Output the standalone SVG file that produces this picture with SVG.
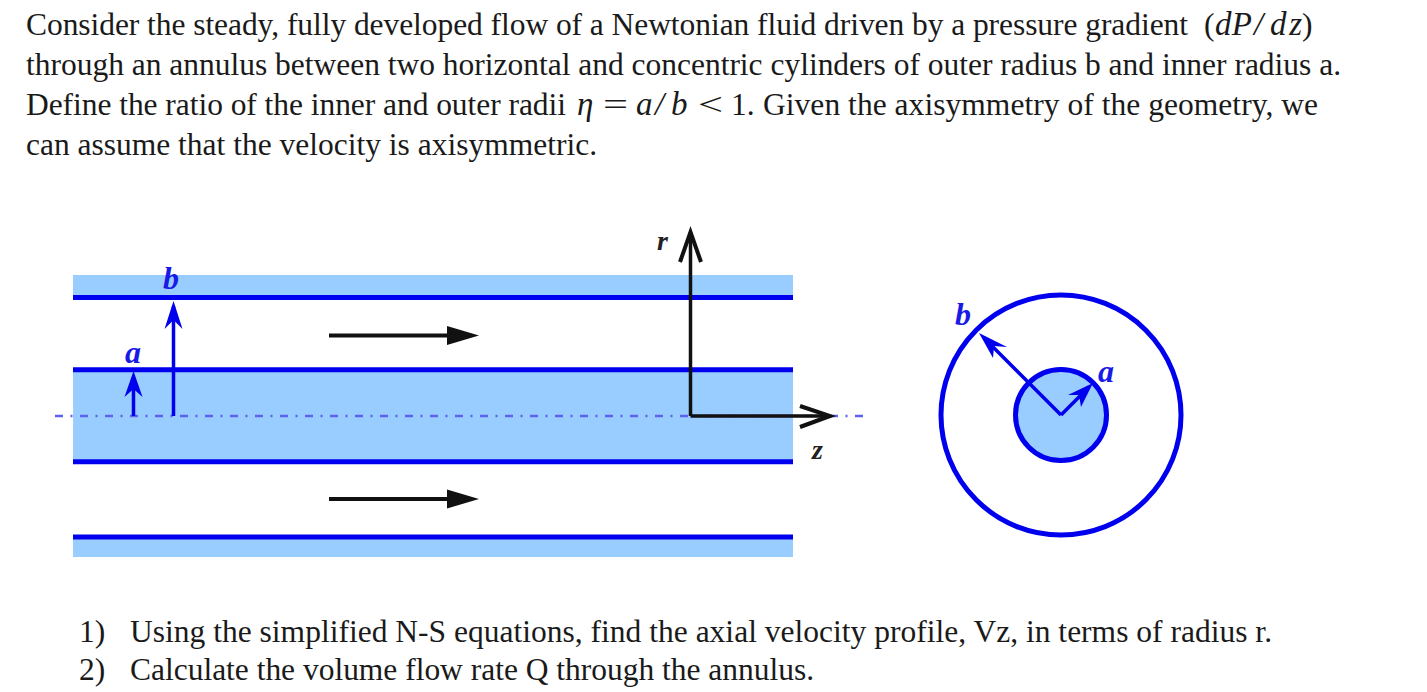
<svg xmlns="http://www.w3.org/2000/svg" width="1427" height="692" viewBox="0 0 1427 692">
<style>
.t{font-family:"Liberation Serif","Times New Roman",serif;font-size:31.5px;fill:#1a1a1a}
.m{font-family:"Liberation Serif",serif;font-style:italic;font-size:33px;fill:#1a1a1a}
.fill{fill:#99ccff}
.w{stroke:#0000ee;stroke-width:5;fill:none}
.bl{stroke:#0000ee;stroke-width:3.5;fill:none}
.bk{stroke:#111;stroke-width:3.5;fill:none}
.lb{font-family:"Liberation Serif",serif;font-style:italic;font-weight:bold;font-size:32px;fill:#1a1ae6}
.lk{font-family:"Liberation Serif",serif;font-style:italic;font-weight:bold;font-size:28px;fill:#222}
</style>
<rect width="1427" height="692" fill="#fff"/>
<g id="problem-text">
<text class="t" x="26" y="35" textLength="1162" lengthAdjust="spacing">Consider the steady, fully developed flow of a Newtonian fluid driven by a pressure gradient</text>
<text class="t" x="1204" y="35">(</text>
<text class="m" x="1215" y="35" textLength="37" lengthAdjust="spacing">dP</text>
<text class="m" x="1254" y="35">/</text>
<text class="m" x="1270" y="35" textLength="32" lengthAdjust="spacing">dz</text>
<text class="t" x="1302" y="35">)</text>
<text class="t" x="26" y="75" textLength="1315" lengthAdjust="spacing">through an annulus between two horizontal and concentric cylinders of outer radius b and inner radius a.</text>
<text class="t" x="26" y="115" textLength="540" lengthAdjust="spacing">Define the ratio of the inner and outer radii</text>
<text class="m" x="577" y="115">η</text>
<text class="t" x="603" y="115" textLength="25" lengthAdjust="spacingAndGlyphs">=</text>
<text class="m" x="636" y="115">a</text>
<text class="m" x="655" y="115">/</text>
<text class="m" x="671" y="115">b</text>
<text class="t" x="698" y="115" textLength="25" lengthAdjust="spacingAndGlyphs">&lt;</text>
<text class="t" x="731" y="115">1.</text>
<text class="t" x="763" y="115" textLength="555" lengthAdjust="spacing">Given the axisymmetry of the geometry, we</text>
<text class="t" x="26" y="155" textLength="571" lengthAdjust="spacing">can assume that the velocity is axisymmetric.</text>
</g>
<g id="annulus-side">
<rect class="fill" x="73" y="275" width="720" height="23"/>
<rect class="fill" x="73" y="370" width="720" height="92"/>
<rect class="fill" x="73" y="537" width="720" height="20"/>
<path class="w" d="M73 297.500H793M73 369.700H793M73 461.700H793M73 537H793"/>
<path d="M55 416H867" stroke="#6060ee" stroke-width="2.500" stroke-dasharray="8 7.500 2 7.500" fill="none"/>
</g>
<g id="annulus-section">
<circle cx="1061" cy="415" r="120" class="w"/>
<circle cx="1061" cy="415" r="46" class="fill"/>
<circle cx="1061" cy="415" r="45.500" class="w"/>
</g>
<g id="connectors">
<path class="bl" d="M133.500 416V378M173.500 416V306"/>
<path d="M133.500 371L142.500 397L133.500 389L124.500 397Z" fill="#0000ee"/>
<path d="M173.500 301L182.500 329L173.500 320L164.500 329Z" fill="#0000ee"/>
<path d="M329 335.500H455" stroke="#111" stroke-width="4" fill="none"/>
<path d="M479 335.500L447 326V345Z" fill="#111"/>
<path d="M329 499H455" stroke="#111" stroke-width="4" fill="none"/>
<path d="M479 499L447 489.500V508.500Z" fill="#111"/>
<path class="bk" d="M690.500 416V232M690.500 416H828"/>
<path d="M680 262L690.500 232L701 262M800 406L830 416L800 427" fill="none" stroke="#111" stroke-width="4"/>
<path class="bl" d="M1061 415L984 338M1061 415L1089 387"/>
<path d="M979 333L1007 347L994 346L993 358Z" fill="#0000ee"/>
<path d="M1093 383L1081 407L1079 395L1068 395Z" fill="#0000ee"/>
</g>
<g id="label-b-side"><text class="lb" x="163" y="289">b</text></g>
<g id="label-a-side"><text class="lb" x="125" y="363">a</text></g>
<g id="label-r"><text class="lk" x="657" y="250">r</text></g>
<g id="label-z"><text class="lk" x="812" y="459">z</text></g>
<g id="label-b-end"><text class="lb" x="955" y="325">b</text></g>
<g id="label-a-end"><text class="lb" x="1098" y="382">a</text></g>
<g id="questions">
<text class="t" x="79" y="642">1)</text>
<text class="t" x="130" y="642" textLength="1142" lengthAdjust="spacing">Using the simplified N-S equations, find the axial velocity profile, Vz, in terms of radius r.</text>
<text class="t" x="79" y="680">2)</text>
<text class="t" x="130" y="680" textLength="684" lengthAdjust="spacing">Calculate the volume flow rate Q through the annulus.</text>
</g>
</svg>
